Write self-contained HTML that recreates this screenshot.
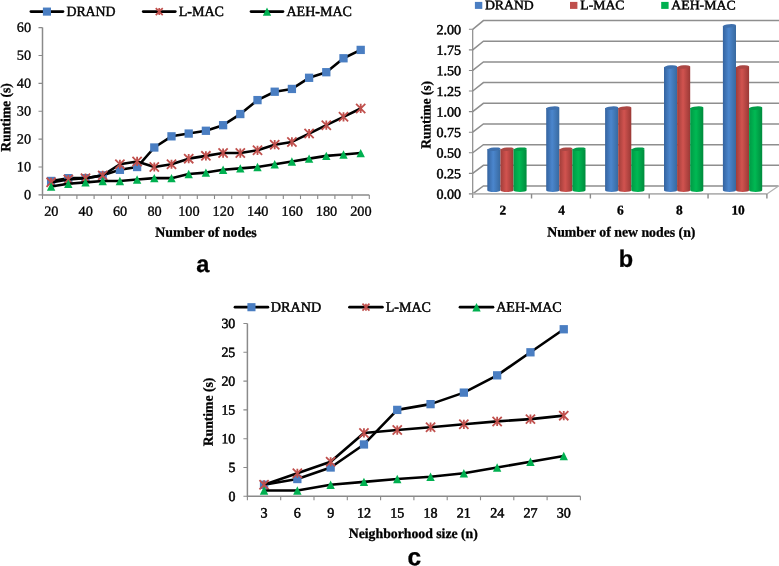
<!DOCTYPE html>
<html><head><meta charset="utf-8"><title>Runtime comparison</title>
<style>html,body{margin:0;padding:0;background:#fff}svg{display:block}text{font-family:"Liberation Serif","DejaVu Serif",serif;fill:#000;stroke:#000;stroke-width:.3px}text.sn{font-family:"Liberation Sans","DejaVu Sans",sans-serif}</style>
</head><body>
<svg width="779" height="566" viewBox="0 0 779 566">
<rect width="779" height="566" fill="#fff"/>
<defs>
<linearGradient id="gb" x1="0" x2="1" y1="0" y2="0"><stop offset="0" stop-color="#34639f"/><stop offset="0.45" stop-color="#4b86cd"/><stop offset="1" stop-color="#38699f"/></linearGradient>
<linearGradient id="gr" x1="0" x2="1" y1="0" y2="0"><stop offset="0" stop-color="#a03d39"/><stop offset="0.45" stop-color="#d1534f"/><stop offset="1" stop-color="#9a3936"/></linearGradient>
<linearGradient id="gg" x1="0" x2="1" y1="0" y2="0"><stop offset="0" stop-color="#009a45"/><stop offset="0.45" stop-color="#00b953"/><stop offset="1" stop-color="#008b3d"/></linearGradient>
</defs>
<path d="M42.50 27.60V194.90H369.30" stroke="#8a8a8a" stroke-width="1.5" fill="none"/>
<path d="M38.50 194.90H42.50M38.50 167.02H42.50M38.50 139.13H42.50M38.50 111.25H42.50M38.50 83.37H42.50M38.50 55.48H42.50M38.50 27.60H42.50M42.50 194.90V198.90M59.70 194.90V198.90M76.90 194.90V198.90M94.10 194.90V198.90M111.30 194.90V198.90M128.50 194.90V198.90M145.70 194.90V198.90M162.90 194.90V198.90M180.10 194.90V198.90M197.30 194.90V198.90M214.50 194.90V198.90M231.70 194.90V198.90M248.90 194.90V198.90M266.10 194.90V198.90M283.30 194.90V198.90M300.50 194.90V198.90M317.70 194.90V198.90M334.90 194.90V198.90M352.10 194.90V198.90M369.30 194.90V198.90" stroke="#8a8a8a" stroke-width="1.1" fill="none"/>
<text transform="translate(31.10 199.20) rotate(0.12)" font-size="14.00" text-anchor="end" textLength="7.14" lengthAdjust="spacingAndGlyphs">0</text>
<text transform="translate(31.10 171.32) rotate(0.12)" font-size="14.00" text-anchor="end" textLength="14.28" lengthAdjust="spacingAndGlyphs">10</text>
<text transform="translate(31.10 143.43) rotate(0.12)" font-size="14.00" text-anchor="end" textLength="14.28" lengthAdjust="spacingAndGlyphs">20</text>
<text transform="translate(31.10 115.55) rotate(0.12)" font-size="14.00" text-anchor="end" textLength="14.28" lengthAdjust="spacingAndGlyphs">30</text>
<text transform="translate(31.10 87.67) rotate(0.12)" font-size="14.00" text-anchor="end" textLength="14.28" lengthAdjust="spacingAndGlyphs">40</text>
<text transform="translate(31.10 59.78) rotate(0.12)" font-size="14.00" text-anchor="end" textLength="14.28" lengthAdjust="spacingAndGlyphs">50</text>
<text transform="translate(31.10 31.90) rotate(0.12)" font-size="14.00" text-anchor="end" textLength="14.28" lengthAdjust="spacingAndGlyphs">60</text>
<text transform="translate(51.30 215.70) rotate(0.12)" font-size="14.00" text-anchor="middle" textLength="14.28" lengthAdjust="spacingAndGlyphs">20</text>
<text transform="translate(85.70 215.70) rotate(0.12)" font-size="14.00" text-anchor="middle" textLength="14.28" lengthAdjust="spacingAndGlyphs">40</text>
<text transform="translate(120.10 215.70) rotate(0.12)" font-size="14.00" text-anchor="middle" textLength="14.28" lengthAdjust="spacingAndGlyphs">60</text>
<text transform="translate(154.50 215.70) rotate(0.12)" font-size="14.00" text-anchor="middle" textLength="14.28" lengthAdjust="spacingAndGlyphs">80</text>
<text transform="translate(188.90 215.70) rotate(0.12)" font-size="14.00" text-anchor="middle" textLength="21.42" lengthAdjust="spacingAndGlyphs">100</text>
<text transform="translate(223.30 215.70) rotate(0.12)" font-size="14.00" text-anchor="middle" textLength="21.42" lengthAdjust="spacingAndGlyphs">120</text>
<text transform="translate(257.70 215.70) rotate(0.12)" font-size="14.00" text-anchor="middle" textLength="21.42" lengthAdjust="spacingAndGlyphs">140</text>
<text transform="translate(292.10 215.70) rotate(0.12)" font-size="14.00" text-anchor="middle" textLength="21.42" lengthAdjust="spacingAndGlyphs">160</text>
<text transform="translate(326.50 215.70) rotate(0.12)" font-size="14.00" text-anchor="middle" textLength="21.42" lengthAdjust="spacingAndGlyphs">180</text>
<text transform="translate(360.90 215.70) rotate(0.12)" font-size="14.00" text-anchor="middle" textLength="21.42" lengthAdjust="spacingAndGlyphs">200</text>
<polyline points="51.10,180.96 68.30,178.17 85.50,178.17 102.70,175.38 119.90,169.81 137.10,167.02 154.30,147.50 171.50,136.34 188.70,133.56 205.90,130.77 223.10,125.19 240.30,114.04 257.50,100.10 274.70,91.73 291.90,88.94 309.10,77.79 326.30,72.21 343.50,58.27 360.70,49.91" fill="none" stroke="#000" stroke-width="2.6" stroke-linejoin="round" stroke-linecap="round"/>
<rect x="46.95" y="176.81" width="8.30" height="8.30" fill="#4a7ec2"/>
<rect x="64.15" y="174.02" width="8.30" height="8.30" fill="#4a7ec2"/>
<rect x="81.35" y="174.02" width="8.30" height="8.30" fill="#4a7ec2"/>
<rect x="98.55" y="171.23" width="8.30" height="8.30" fill="#4a7ec2"/>
<rect x="115.75" y="165.66" width="8.30" height="8.30" fill="#4a7ec2"/>
<rect x="132.95" y="162.87" width="8.30" height="8.30" fill="#4a7ec2"/>
<rect x="150.15" y="143.35" width="8.30" height="8.30" fill="#4a7ec2"/>
<rect x="167.35" y="132.19" width="8.30" height="8.30" fill="#4a7ec2"/>
<rect x="184.55" y="129.41" width="8.30" height="8.30" fill="#4a7ec2"/>
<rect x="201.75" y="126.62" width="8.30" height="8.30" fill="#4a7ec2"/>
<rect x="218.95" y="121.04" width="8.30" height="8.30" fill="#4a7ec2"/>
<rect x="236.15" y="109.89" width="8.30" height="8.30" fill="#4a7ec2"/>
<rect x="253.35" y="95.95" width="8.30" height="8.30" fill="#4a7ec2"/>
<rect x="270.55" y="87.58" width="8.30" height="8.30" fill="#4a7ec2"/>
<rect x="287.75" y="84.79" width="8.30" height="8.30" fill="#4a7ec2"/>
<rect x="304.95" y="73.64" width="8.30" height="8.30" fill="#4a7ec2"/>
<rect x="322.15" y="68.06" width="8.30" height="8.30" fill="#4a7ec2"/>
<rect x="339.35" y="54.12" width="8.30" height="8.30" fill="#4a7ec2"/>
<rect x="356.55" y="45.76" width="8.30" height="8.30" fill="#4a7ec2"/>
<polyline points="51.10,182.35 68.30,179.56 85.50,178.17 102.70,175.38 119.90,164.23 137.10,161.44 154.30,167.02 171.50,164.23 188.70,158.65 205.90,155.86 223.10,153.07 240.30,153.07 257.50,150.29 274.70,144.71 291.90,141.92 309.10,133.56 326.30,125.19 343.50,116.83 360.70,108.46" fill="none" stroke="#000" stroke-width="2.6" stroke-linejoin="round" stroke-linecap="round"/>
<path d="M46.50 177.75L55.70 186.95M46.50 186.95L55.70 177.75M51.10 177.75L51.10 186.95" stroke="#c0504d" stroke-width="1.80" fill="none"/>
<path d="M63.70 174.96L72.90 184.16M63.70 184.16L72.90 174.96M68.30 174.96L68.30 184.16" stroke="#c0504d" stroke-width="1.80" fill="none"/>
<path d="M80.90 173.57L90.10 182.77M80.90 182.77L90.10 173.57M85.50 173.57L85.50 182.77" stroke="#c0504d" stroke-width="1.80" fill="none"/>
<path d="M98.10 170.78L107.30 179.98M98.10 179.98L107.30 170.78M102.70 170.78L102.70 179.98" stroke="#c0504d" stroke-width="1.80" fill="none"/>
<path d="M115.30 159.63L124.50 168.83M115.30 168.83L124.50 159.63M119.90 159.63L119.90 168.83" stroke="#c0504d" stroke-width="1.80" fill="none"/>
<path d="M132.50 156.84L141.70 166.04M132.50 166.04L141.70 156.84M137.10 156.84L137.10 166.04" stroke="#c0504d" stroke-width="1.80" fill="none"/>
<path d="M149.70 162.42L158.90 171.62M149.70 171.62L158.90 162.42M154.30 162.42L154.30 171.62" stroke="#c0504d" stroke-width="1.80" fill="none"/>
<path d="M166.90 159.63L176.10 168.83M166.90 168.83L176.10 159.63M171.50 159.63L171.50 168.83" stroke="#c0504d" stroke-width="1.80" fill="none"/>
<path d="M184.10 154.05L193.30 163.25M184.10 163.25L193.30 154.05M188.70 154.05L188.70 163.25" stroke="#c0504d" stroke-width="1.80" fill="none"/>
<path d="M201.30 151.26L210.50 160.46M201.30 160.46L210.50 151.26M205.90 151.26L205.90 160.46" stroke="#c0504d" stroke-width="1.80" fill="none"/>
<path d="M218.50 148.47L227.70 157.67M218.50 157.67L227.70 148.47M223.10 148.47L223.10 157.67" stroke="#c0504d" stroke-width="1.80" fill="none"/>
<path d="M235.70 148.47L244.90 157.67M235.70 157.67L244.90 148.47M240.30 148.47L240.30 157.67" stroke="#c0504d" stroke-width="1.80" fill="none"/>
<path d="M252.90 145.69L262.10 154.89M252.90 154.89L262.10 145.69M257.50 145.69L257.50 154.89" stroke="#c0504d" stroke-width="1.80" fill="none"/>
<path d="M270.10 140.11L279.30 149.31M270.10 149.31L279.30 140.11M274.70 140.11L274.70 149.31" stroke="#c0504d" stroke-width="1.80" fill="none"/>
<path d="M287.30 137.32L296.50 146.52M287.30 146.52L296.50 137.32M291.90 137.32L291.90 146.52" stroke="#c0504d" stroke-width="1.80" fill="none"/>
<path d="M304.50 128.96L313.70 138.16M304.50 138.16L313.70 128.96M309.10 128.96L309.10 138.16" stroke="#c0504d" stroke-width="1.80" fill="none"/>
<path d="M321.70 120.59L330.90 129.79M321.70 129.79L330.90 120.59M326.30 120.59L326.30 129.79" stroke="#c0504d" stroke-width="1.80" fill="none"/>
<path d="M338.90 112.23L348.10 121.43M338.90 121.43L348.10 112.23M343.50 112.23L343.50 121.43" stroke="#c0504d" stroke-width="1.80" fill="none"/>
<path d="M356.10 103.86L365.30 113.06M356.10 113.06L365.30 103.86M360.70 103.86L360.70 113.06" stroke="#c0504d" stroke-width="1.80" fill="none"/>
<polyline points="51.10,186.53 68.30,183.75 85.50,182.35 102.70,180.96 119.90,180.96 137.10,179.56 154.30,178.17 171.50,178.17 188.70,173.99 205.90,172.59 223.10,169.81 240.30,168.41 257.50,167.02 274.70,164.23 291.90,161.44 309.10,158.65 326.30,155.86 343.50,154.47 360.70,153.07" fill="none" stroke="#000" stroke-width="2.6" stroke-linejoin="round" stroke-linecap="round"/>
<path d="M51.10 182.34L55.30 190.73L46.90 190.73Z" fill="#00b050"/>
<path d="M68.30 179.55L72.50 187.95L64.10 187.95Z" fill="#00b050"/>
<path d="M85.50 178.15L89.70 186.55L81.30 186.55Z" fill="#00b050"/>
<path d="M102.70 176.76L106.90 185.16L98.50 185.16Z" fill="#00b050"/>
<path d="M119.90 176.76L124.10 185.16L115.70 185.16Z" fill="#00b050"/>
<path d="M137.10 175.36L141.30 183.76L132.90 183.76Z" fill="#00b050"/>
<path d="M154.30 173.97L158.50 182.37L150.10 182.37Z" fill="#00b050"/>
<path d="M171.50 173.97L175.70 182.37L167.30 182.37Z" fill="#00b050"/>
<path d="M188.70 169.79L192.90 178.19L184.50 178.19Z" fill="#00b050"/>
<path d="M205.90 168.39L210.10 176.79L201.70 176.79Z" fill="#00b050"/>
<path d="M223.10 165.61L227.30 174.00L218.90 174.00Z" fill="#00b050"/>
<path d="M240.30 164.21L244.50 172.61L236.10 172.61Z" fill="#00b050"/>
<path d="M257.50 162.82L261.70 171.22L253.30 171.22Z" fill="#00b050"/>
<path d="M274.70 160.03L278.90 168.43L270.50 168.43Z" fill="#00b050"/>
<path d="M291.90 157.24L296.10 165.64L287.70 165.64Z" fill="#00b050"/>
<path d="M309.10 154.45L313.30 162.85L304.90 162.85Z" fill="#00b050"/>
<path d="M326.30 151.66L330.50 160.06L322.10 160.06Z" fill="#00b050"/>
<path d="M343.50 150.27L347.70 158.67L339.30 158.67Z" fill="#00b050"/>
<path d="M360.70 148.88L364.90 157.27L356.50 157.27Z" fill="#00b050"/>
<path d="M30.90 11.60H63.00" stroke="#000" stroke-width="2.7" stroke-linecap="round"/>
<rect x="42.90" y="7.55" width="8.10" height="8.10" fill="#4a7ec2"/>
<text transform="translate(66.40 16.00) rotate(0.12)" font-size="14.30" textLength="49.20" lengthAdjust="spacingAndGlyphs" style="stroke-width:.45px">DRAND</text>
<path d="M143.20 11.60H175.30" stroke="#000" stroke-width="2.7" stroke-linecap="round"/>
<path d="M155.75 8.10L162.75 15.10M155.75 15.10L162.75 8.10M159.25 8.10L159.25 15.10" stroke="#c0504d" stroke-width="1.70" fill="none"/>
<text transform="translate(178.70 16.00) rotate(0.12)" font-size="14.30" textLength="45.20" lengthAdjust="spacingAndGlyphs" style="stroke-width:.45px">L-MAC</text>
<path d="M251.00 11.60H283.00" stroke="#000" stroke-width="2.7" stroke-linecap="round"/>
<path d="M267.00 7.40L271.20 15.80L262.80 15.80Z" fill="#00b050"/>
<text transform="translate(286.50 16.00) rotate(0.12)" font-size="14.30" textLength="65.40" lengthAdjust="spacingAndGlyphs" style="stroke-width:.45px">AEH-MAC</text>
<text transform="translate(206.00 236.80) rotate(0.12)" font-size="14.00" font-weight="bold" text-anchor="middle" textLength="101.40" lengthAdjust="spacingAndGlyphs">Number of nodes</text>
<text transform="translate(10.20 117.40) rotate(-89.88)" font-size="14.00" font-weight="bold" text-anchor="middle" textLength="68.60" lengthAdjust="spacingAndGlyphs">Runtime (s)</text>
<text transform="translate(202.90 272.00) rotate(0.12)" font-size="23.50" font-weight="bold" text-anchor="middle" class="sn">a</text>
<path d="M247.40 323.50V496.30H580.40" stroke="#8a8a8a" stroke-width="1.5" fill="none"/>
<path d="M243.40 496.30H247.40M243.40 467.50H247.40M243.40 438.70H247.40M243.40 409.90H247.40M243.40 381.10H247.40M243.40 352.30H247.40M243.40 323.50H247.40M247.40 496.30V500.30M280.70 496.30V500.30M314.00 496.30V500.30M347.30 496.30V500.30M380.60 496.30V500.30M413.90 496.30V500.30M447.20 496.30V500.30M480.50 496.30V500.30M513.80 496.30V500.30M547.10 496.30V500.30M580.40 496.30V500.30" stroke="#8a8a8a" stroke-width="1.1" fill="none"/>
<text transform="translate(235.30 500.90) rotate(0.12)" font-size="14.00" text-anchor="end" textLength="6.93" lengthAdjust="spacingAndGlyphs" style="stroke-width:.5px">0</text>
<text transform="translate(235.30 472.10) rotate(0.12)" font-size="14.00" text-anchor="end" textLength="6.93" lengthAdjust="spacingAndGlyphs" style="stroke-width:.5px">5</text>
<text transform="translate(235.30 443.30) rotate(0.12)" font-size="14.00" text-anchor="end" textLength="13.86" lengthAdjust="spacingAndGlyphs" style="stroke-width:.5px">10</text>
<text transform="translate(235.30 414.50) rotate(0.12)" font-size="14.00" text-anchor="end" textLength="13.86" lengthAdjust="spacingAndGlyphs" style="stroke-width:.5px">15</text>
<text transform="translate(235.30 385.70) rotate(0.12)" font-size="14.00" text-anchor="end" textLength="13.86" lengthAdjust="spacingAndGlyphs" style="stroke-width:.5px">20</text>
<text transform="translate(235.30 356.90) rotate(0.12)" font-size="14.00" text-anchor="end" textLength="13.86" lengthAdjust="spacingAndGlyphs" style="stroke-width:.5px">25</text>
<text transform="translate(235.30 328.10) rotate(0.12)" font-size="14.00" text-anchor="end" textLength="13.86" lengthAdjust="spacingAndGlyphs" style="stroke-width:.5px">30</text>
<text transform="translate(264.05 517.40) rotate(0.12)" font-size="14.20" text-anchor="middle" textLength="7.03" lengthAdjust="spacingAndGlyphs" style="stroke-width:.5px">3</text>
<text transform="translate(297.35 517.40) rotate(0.12)" font-size="14.20" text-anchor="middle" textLength="7.03" lengthAdjust="spacingAndGlyphs" style="stroke-width:.5px">6</text>
<text transform="translate(330.65 517.40) rotate(0.12)" font-size="14.20" text-anchor="middle" textLength="7.03" lengthAdjust="spacingAndGlyphs" style="stroke-width:.5px">9</text>
<text transform="translate(363.95 517.40) rotate(0.12)" font-size="14.20" text-anchor="middle" textLength="14.06" lengthAdjust="spacingAndGlyphs" style="stroke-width:.5px">12</text>
<text transform="translate(397.25 517.40) rotate(0.12)" font-size="14.20" text-anchor="middle" textLength="14.06" lengthAdjust="spacingAndGlyphs" style="stroke-width:.5px">15</text>
<text transform="translate(430.55 517.40) rotate(0.12)" font-size="14.20" text-anchor="middle" textLength="14.06" lengthAdjust="spacingAndGlyphs" style="stroke-width:.5px">18</text>
<text transform="translate(463.85 517.40) rotate(0.12)" font-size="14.20" text-anchor="middle" textLength="14.06" lengthAdjust="spacingAndGlyphs" style="stroke-width:.5px">21</text>
<text transform="translate(497.15 517.40) rotate(0.12)" font-size="14.20" text-anchor="middle" textLength="14.06" lengthAdjust="spacingAndGlyphs" style="stroke-width:.5px">24</text>
<text transform="translate(530.45 517.40) rotate(0.12)" font-size="14.20" text-anchor="middle" textLength="14.06" lengthAdjust="spacingAndGlyphs" style="stroke-width:.5px">27</text>
<text transform="translate(563.75 517.40) rotate(0.12)" font-size="14.20" text-anchor="middle" textLength="14.06" lengthAdjust="spacingAndGlyphs" style="stroke-width:.5px">30</text>
<polyline points="264.05,484.78 297.35,479.02 330.65,467.50 363.95,444.46 397.25,409.90 430.55,404.14 463.85,392.62 497.15,375.34 530.45,352.30 563.75,329.26" fill="none" stroke="#000" stroke-width="2.6" stroke-linejoin="round" stroke-linecap="round"/>
<rect x="259.90" y="480.63" width="8.30" height="8.30" fill="#4a7ec2"/>
<rect x="293.20" y="474.87" width="8.30" height="8.30" fill="#4a7ec2"/>
<rect x="326.50" y="463.35" width="8.30" height="8.30" fill="#4a7ec2"/>
<rect x="359.80" y="440.31" width="8.30" height="8.30" fill="#4a7ec2"/>
<rect x="393.10" y="405.75" width="8.30" height="8.30" fill="#4a7ec2"/>
<rect x="426.40" y="399.99" width="8.30" height="8.30" fill="#4a7ec2"/>
<rect x="459.70" y="388.47" width="8.30" height="8.30" fill="#4a7ec2"/>
<rect x="493.00" y="371.19" width="8.30" height="8.30" fill="#4a7ec2"/>
<rect x="526.30" y="348.15" width="8.30" height="8.30" fill="#4a7ec2"/>
<rect x="559.60" y="325.11" width="8.30" height="8.30" fill="#4a7ec2"/>
<polyline points="264.05,484.78 297.35,473.26 330.65,461.74 363.95,432.94 397.25,430.06 430.55,427.18 463.85,424.30 497.15,421.42 530.45,419.12 563.75,415.66" fill="none" stroke="#000" stroke-width="2.6" stroke-linejoin="round" stroke-linecap="round"/>
<path d="M259.45 480.18L268.65 489.38M259.45 489.38L268.65 480.18M264.05 480.18L264.05 489.38" stroke="#c0504d" stroke-width="1.80" fill="none"/>
<path d="M292.75 468.66L301.95 477.86M292.75 477.86L301.95 468.66M297.35 468.66L297.35 477.86" stroke="#c0504d" stroke-width="1.80" fill="none"/>
<path d="M326.05 457.14L335.25 466.34M326.05 466.34L335.25 457.14M330.65 457.14L330.65 466.34" stroke="#c0504d" stroke-width="1.80" fill="none"/>
<path d="M359.35 428.34L368.55 437.54M359.35 437.54L368.55 428.34M363.95 428.34L363.95 437.54" stroke="#c0504d" stroke-width="1.80" fill="none"/>
<path d="M392.65 425.46L401.85 434.66M392.65 434.66L401.85 425.46M397.25 425.46L397.25 434.66" stroke="#c0504d" stroke-width="1.80" fill="none"/>
<path d="M425.95 422.58L435.15 431.78M425.95 431.78L435.15 422.58M430.55 422.58L430.55 431.78" stroke="#c0504d" stroke-width="1.80" fill="none"/>
<path d="M459.25 419.70L468.45 428.90M459.25 428.90L468.45 419.70M463.85 419.70L463.85 428.90" stroke="#c0504d" stroke-width="1.80" fill="none"/>
<path d="M492.55 416.82L501.75 426.02M492.55 426.02L501.75 416.82M497.15 416.82L497.15 426.02" stroke="#c0504d" stroke-width="1.80" fill="none"/>
<path d="M525.85 414.52L535.05 423.72M525.85 423.72L535.05 414.52M530.45 414.52L530.45 423.72" stroke="#c0504d" stroke-width="1.80" fill="none"/>
<path d="M559.15 411.06L568.35 420.26M559.15 420.26L568.35 411.06M563.75 411.06L563.75 420.26" stroke="#c0504d" stroke-width="1.80" fill="none"/>
<polyline points="264.05,490.54 297.35,490.54 330.65,484.78 363.95,481.90 397.25,479.02 430.55,476.72 463.85,473.26 497.15,467.50 530.45,461.74 563.75,455.98" fill="none" stroke="#000" stroke-width="2.6" stroke-linejoin="round" stroke-linecap="round"/>
<path d="M264.05 486.34L268.25 494.74L259.85 494.74Z" fill="#00b050"/>
<path d="M297.35 486.34L301.55 494.74L293.15 494.74Z" fill="#00b050"/>
<path d="M330.65 480.58L334.85 488.98L326.45 488.98Z" fill="#00b050"/>
<path d="M363.95 477.70L368.15 486.10L359.75 486.10Z" fill="#00b050"/>
<path d="M397.25 474.82L401.45 483.22L393.05 483.22Z" fill="#00b050"/>
<path d="M430.55 472.52L434.75 480.92L426.35 480.92Z" fill="#00b050"/>
<path d="M463.85 469.06L468.05 477.46L459.65 477.46Z" fill="#00b050"/>
<path d="M497.15 463.30L501.35 471.70L492.95 471.70Z" fill="#00b050"/>
<path d="M530.45 457.54L534.65 465.94L526.25 465.94Z" fill="#00b050"/>
<path d="M563.75 451.78L567.95 460.18L559.55 460.18Z" fill="#00b050"/>
<path d="M235.00 307.20H267.90" stroke="#000" stroke-width="2.7" stroke-linecap="round"/>
<rect x="247.40" y="303.15" width="8.10" height="8.10" fill="#4a7ec2"/>
<text transform="translate(270.70 311.60) rotate(0.12)" font-size="14.30" textLength="50.50" lengthAdjust="spacingAndGlyphs" style="stroke-width:.45px">DRAND</text>
<path d="M349.50 307.20H382.40" stroke="#000" stroke-width="2.7" stroke-linecap="round"/>
<path d="M362.45 303.70L369.45 310.70M362.45 310.70L369.45 303.70M365.95 303.70L365.95 310.70" stroke="#c0504d" stroke-width="1.70" fill="none"/>
<text transform="translate(385.70 311.60) rotate(0.12)" font-size="14.30" textLength="45.20" lengthAdjust="spacingAndGlyphs" style="stroke-width:.45px">L-MAC</text>
<path d="M460.00 307.20H493.00" stroke="#000" stroke-width="2.7" stroke-linecap="round"/>
<path d="M476.50 303.00L480.70 311.40L472.30 311.40Z" fill="#00b050"/>
<text transform="translate(496.20 311.60) rotate(0.12)" font-size="14.30" textLength="65.40" lengthAdjust="spacingAndGlyphs" style="stroke-width:.45px">AEH-MAC</text>
<text transform="translate(413.30 538.00) rotate(0.12)" font-size="14.00" font-weight="bold" text-anchor="middle" textLength="129.10" lengthAdjust="spacingAndGlyphs">Neighborhood size (n)</text>
<text transform="translate(212.80 412.00) rotate(-89.88)" font-size="14.00" font-weight="bold" text-anchor="middle" textLength="68.60" lengthAdjust="spacingAndGlyphs">Runtime (s)</text>
<text transform="translate(414.40 565.30) rotate(0.12)" font-size="24.50" font-weight="bold" text-anchor="middle" class="sn">c</text>
<path d="M472.70 173.33L483.40 165.32H780.60M472.70 152.75L483.40 144.65H780.60M472.70 132.18L483.40 123.97H780.60M472.70 111.60L483.40 103.30H780.60M472.70 91.03L483.40 82.62H780.60M472.70 70.45L483.40 61.95H780.60M472.70 49.88L483.40 41.28H780.60M472.70 29.30L483.40 20.60H780.60" stroke="#8e8e8e" stroke-width="1.5" fill="none"/>
<path d="M472.70 193.90L483.40 186.00H778.60" stroke="#8e8e8e" stroke-width="1.4" fill="none"/>
<path d="M778.60 186.00L766.90 193.90" stroke="#b0b0b0" stroke-width="1.2" fill="none"/>
<path d="M472.70 29.30V197.90" stroke="#8a8a8a" stroke-width="1.2" fill="none"/>
<path d="M468.90 193.90H472.70M468.90 173.33H472.70M468.90 152.75H472.70M468.90 132.18H472.70M468.90 111.60H472.70M468.90 91.03H472.70M468.90 70.45H472.70M468.90 49.88H472.70M468.90 29.30H472.70" stroke="#8a8a8a" stroke-width="1.1" fill="none"/>
<path d="M472.70 193.90H766.90" stroke="#b3b3b3" stroke-width="1.8" fill="none"/>
<path d="M531.54 193.90V198.50M590.38 193.90V198.50M649.22 193.90V198.50M708.06 193.90V198.50M766.90 193.90V198.50" stroke="#8a8a8a" stroke-width="1.4" fill="none"/>
<text transform="translate(461.10 198.80) rotate(0.12)" font-size="13.80" text-anchor="end" textLength="24.63" lengthAdjust="spacingAndGlyphs" style="stroke-width:.5px">0.00</text>
<text transform="translate(461.10 178.23) rotate(0.12)" font-size="13.80" text-anchor="end" textLength="24.63" lengthAdjust="spacingAndGlyphs" style="stroke-width:.5px">0.25</text>
<text transform="translate(461.10 157.65) rotate(0.12)" font-size="13.80" text-anchor="end" textLength="24.63" lengthAdjust="spacingAndGlyphs" style="stroke-width:.5px">0.50</text>
<text transform="translate(461.10 137.08) rotate(0.12)" font-size="13.80" text-anchor="end" textLength="24.63" lengthAdjust="spacingAndGlyphs" style="stroke-width:.5px">0.75</text>
<text transform="translate(461.10 116.50) rotate(0.12)" font-size="13.80" text-anchor="end" textLength="24.63" lengthAdjust="spacingAndGlyphs" style="stroke-width:.5px">1.00</text>
<text transform="translate(461.10 95.93) rotate(0.12)" font-size="13.80" text-anchor="end" textLength="24.63" lengthAdjust="spacingAndGlyphs" style="stroke-width:.5px">1.25</text>
<text transform="translate(461.10 75.35) rotate(0.12)" font-size="13.80" text-anchor="end" textLength="24.63" lengthAdjust="spacingAndGlyphs" style="stroke-width:.5px">1.50</text>
<text transform="translate(461.10 54.77) rotate(0.12)" font-size="13.80" text-anchor="end" textLength="24.63" lengthAdjust="spacingAndGlyphs" style="stroke-width:.5px">1.75</text>
<text transform="translate(461.10 34.20) rotate(0.12)" font-size="13.80" text-anchor="end" textLength="24.63" lengthAdjust="spacingAndGlyphs" style="stroke-width:.5px">2.00</text>
<text transform="translate(502.72 214.60) rotate(0.12)" font-size="13.40" font-weight="bold" text-anchor="middle">2</text>
<text transform="translate(561.56 214.60) rotate(0.12)" font-size="13.40" font-weight="bold" text-anchor="middle">4</text>
<text transform="translate(620.40 214.60) rotate(0.12)" font-size="13.40" font-weight="bold" text-anchor="middle">6</text>
<text transform="translate(679.24 214.60) rotate(0.12)" font-size="13.40" font-weight="bold" text-anchor="middle">8</text>
<text transform="translate(738.08 214.60) rotate(0.12)" font-size="13.40" font-weight="bold" text-anchor="middle">10</text>
<path d="M487.30 149.20V190.30A6.55 1.70 0 0 0 500.40 190.30V149.20Z" fill="url(#gb)"/>
<ellipse cx="493.85" cy="149.20" rx="6.70" ry="1.70" fill="#3f70ad" transform="rotate(-5 493.85 149.20)"/>
<path d="M500.40 149.20V190.30A6.55 1.70 0 0 0 513.50 190.30V149.20Z" fill="url(#gr)"/>
<ellipse cx="506.95" cy="149.20" rx="6.70" ry="1.70" fill="#ab4744" transform="rotate(-5 506.95 149.20)"/>
<path d="M513.50 149.20V190.30A6.55 1.70 0 0 0 526.60 190.30V149.20Z" fill="url(#gg)"/>
<ellipse cx="520.05" cy="149.20" rx="6.70" ry="1.70" fill="#009c47" transform="rotate(-5 520.05 149.20)"/>
<path d="M546.20 108.10V190.30A6.55 1.70 0 0 0 559.30 190.30V108.10Z" fill="url(#gb)"/>
<ellipse cx="552.75" cy="108.10" rx="6.70" ry="1.70" fill="#3f70ad" transform="rotate(-5 552.75 108.10)"/>
<path d="M559.30 149.20V190.30A6.55 1.70 0 0 0 572.40 190.30V149.20Z" fill="url(#gr)"/>
<ellipse cx="565.85" cy="149.20" rx="6.70" ry="1.70" fill="#ab4744" transform="rotate(-5 565.85 149.20)"/>
<path d="M572.40 149.20V190.30A6.55 1.70 0 0 0 585.50 190.30V149.20Z" fill="url(#gg)"/>
<ellipse cx="578.95" cy="149.20" rx="6.70" ry="1.70" fill="#009c47" transform="rotate(-5 578.95 149.20)"/>
<path d="M605.10 108.10V190.30A6.55 1.70 0 0 0 618.20 190.30V108.10Z" fill="url(#gb)"/>
<ellipse cx="611.65" cy="108.10" rx="6.70" ry="1.70" fill="#3f70ad" transform="rotate(-5 611.65 108.10)"/>
<path d="M618.20 108.10V190.30A6.55 1.70 0 0 0 631.30 190.30V108.10Z" fill="url(#gr)"/>
<ellipse cx="624.75" cy="108.10" rx="6.70" ry="1.70" fill="#ab4744" transform="rotate(-5 624.75 108.10)"/>
<path d="M631.30 149.20V190.30A6.55 1.70 0 0 0 644.40 190.30V149.20Z" fill="url(#gg)"/>
<ellipse cx="637.85" cy="149.20" rx="6.70" ry="1.70" fill="#009c47" transform="rotate(-5 637.85 149.20)"/>
<path d="M664.00 67.00V190.30A6.55 1.70 0 0 0 677.10 190.30V67.00Z" fill="url(#gb)"/>
<ellipse cx="670.55" cy="67.00" rx="6.70" ry="1.70" fill="#3f70ad" transform="rotate(-5 670.55 67.00)"/>
<path d="M677.10 67.00V190.30A6.55 1.70 0 0 0 690.20 190.30V67.00Z" fill="url(#gr)"/>
<ellipse cx="683.65" cy="67.00" rx="6.70" ry="1.70" fill="#ab4744" transform="rotate(-5 683.65 67.00)"/>
<path d="M690.20 108.10V190.30A6.55 1.70 0 0 0 703.30 190.30V108.10Z" fill="url(#gg)"/>
<ellipse cx="696.75" cy="108.10" rx="6.70" ry="1.70" fill="#009c47" transform="rotate(-5 696.75 108.10)"/>
<path d="M722.90 25.90V190.30A6.55 1.70 0 0 0 736.00 190.30V25.90Z" fill="url(#gb)"/>
<ellipse cx="729.45" cy="25.90" rx="6.70" ry="1.70" fill="#3f70ad" transform="rotate(-5 729.45 25.90)"/>
<path d="M736.00 67.00V190.30A6.55 1.70 0 0 0 749.10 190.30V67.00Z" fill="url(#gr)"/>
<ellipse cx="742.55" cy="67.00" rx="6.70" ry="1.70" fill="#ab4744" transform="rotate(-5 742.55 67.00)"/>
<path d="M749.10 108.10V190.30A6.55 1.70 0 0 0 762.20 190.30V108.10Z" fill="url(#gg)"/>
<ellipse cx="755.65" cy="108.10" rx="6.70" ry="1.70" fill="#009c47" transform="rotate(-5 755.65 108.10)"/>
<rect x="474.90" y="1.9" width="7.4" height="7" fill="#4a7ec2"/>
<text transform="translate(484.90 9.30) rotate(0.12)" font-size="13.20" textLength="48.80" lengthAdjust="spacingAndGlyphs" style="stroke-width:.45px">DRAND</text>
<rect x="570.00" y="1.9" width="7.4" height="7" fill="#c0504d"/>
<text transform="translate(580.30 9.30) rotate(0.12)" font-size="13.20" textLength="44.20" lengthAdjust="spacingAndGlyphs" style="stroke-width:.45px">L-MAC</text>
<rect x="661.20" y="1.9" width="7.4" height="7" fill="#00b050"/>
<text transform="translate(671.30 9.30) rotate(0.12)" font-size="13.20" textLength="64.30" lengthAdjust="spacingAndGlyphs" style="stroke-width:.45px">AEH-MAC</text>
<text transform="translate(621.30 236.60) rotate(0.12)" font-size="14.00" font-weight="bold" text-anchor="middle" textLength="148.20" lengthAdjust="spacingAndGlyphs">Number of new nodes (n)</text>
<text transform="translate(430.60 114.90) rotate(-89.88)" font-size="14.00" font-weight="bold" text-anchor="middle" textLength="67.80" lengthAdjust="spacingAndGlyphs">Runtime (s)</text>
<text transform="translate(626.00 266.80) rotate(0.12)" font-size="23.50" font-weight="bold" text-anchor="middle" class="sn">b</text>
</svg></body></html>
